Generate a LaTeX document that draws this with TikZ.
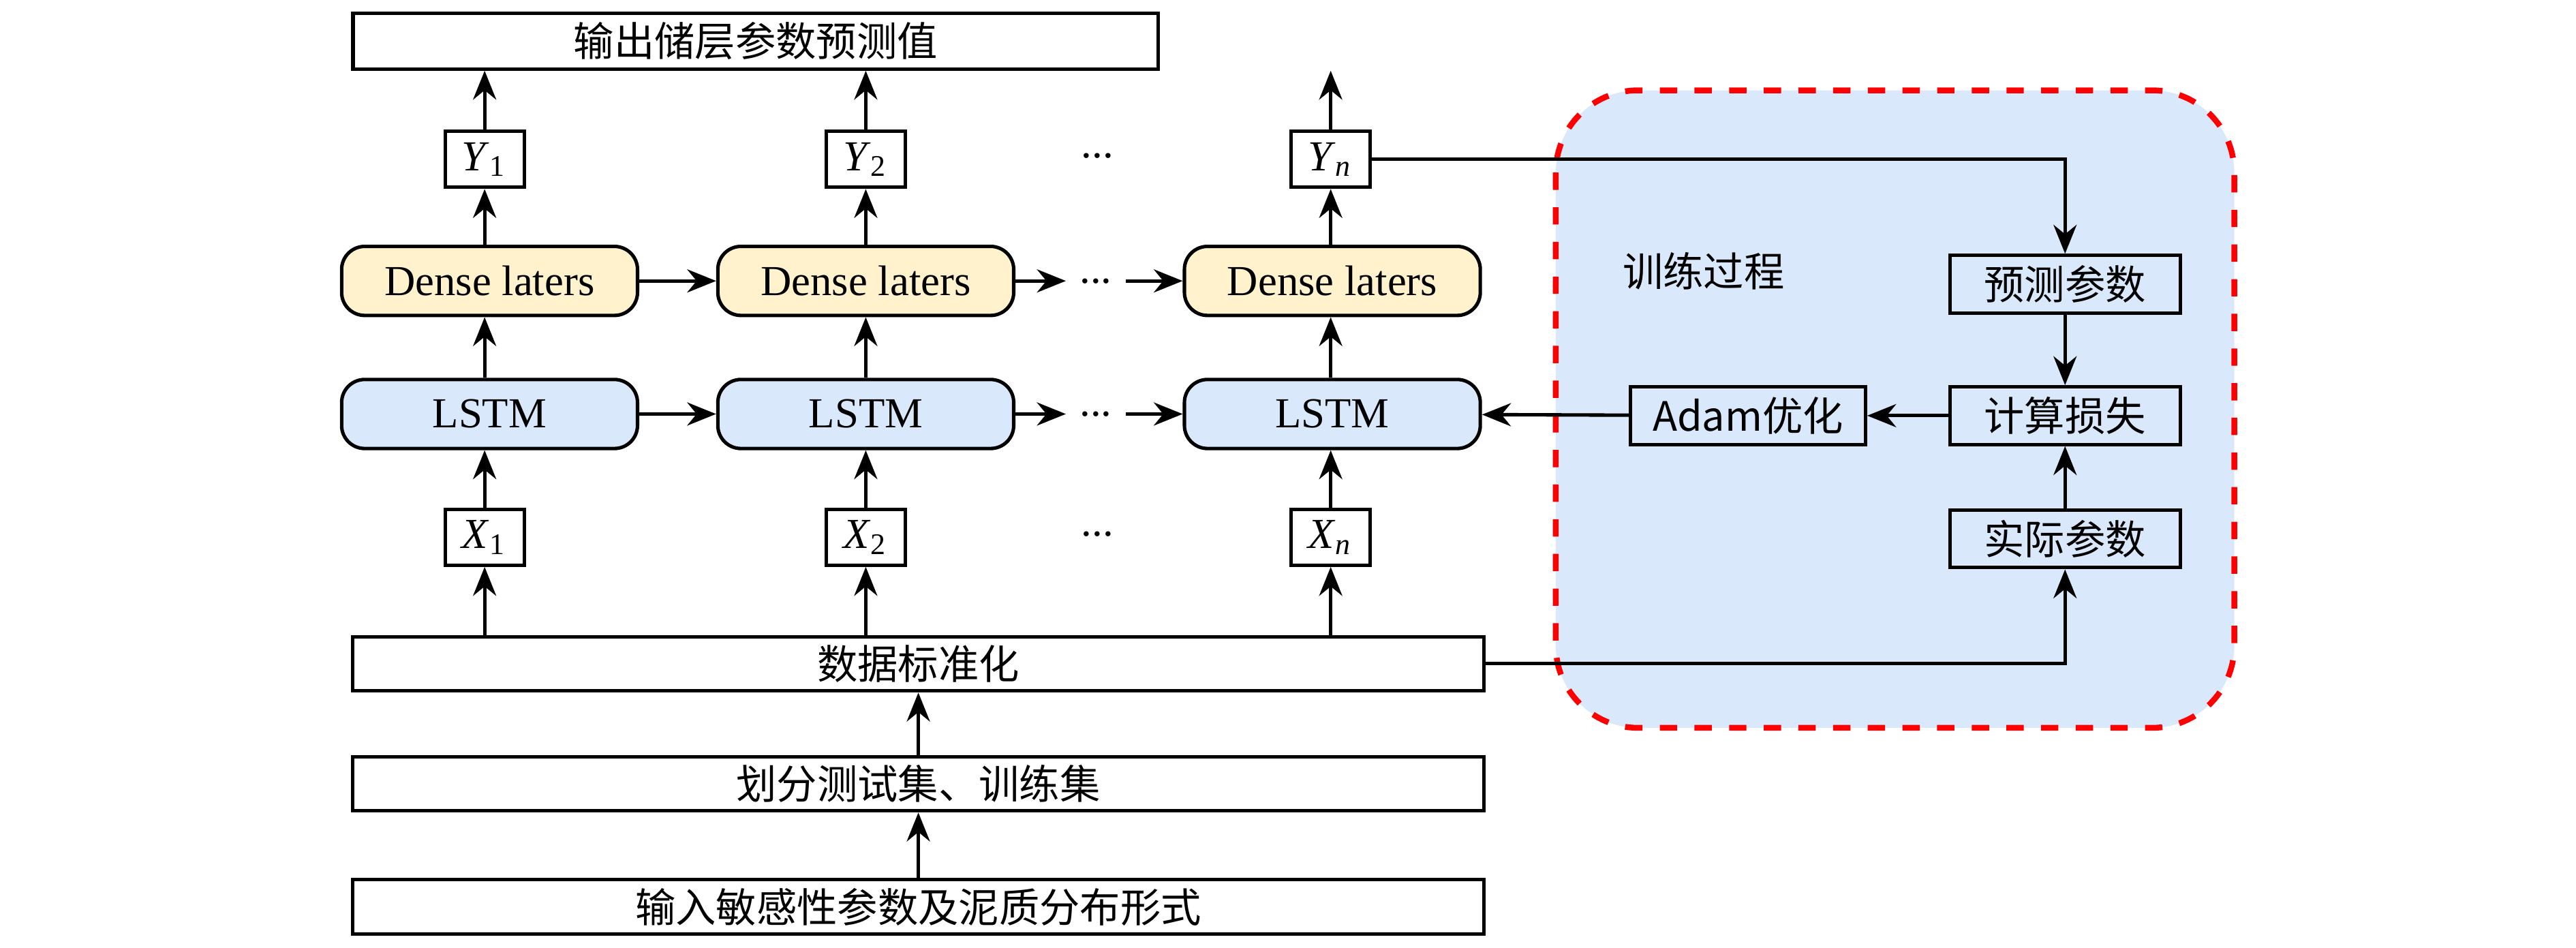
\documentclass[tikz,border=0pt]{standalone}
\usepackage{fontspec}
\setmainfont{Liberation Serif}
\newfontfamily\cjk{Noto Sans CJK SC}
\usetikzlibrary{arrows.meta,positioning}
\definecolor{lb}{HTML}{DAE8FC}
\definecolor{ly}{HTML}{FFF2CC}
\begin{document}
\begin{tikzpicture}[x=0.01cm,y=-0.01cm,
  every node/.style={font=\fontsize{7.4}{9}\selectfont},
  box/.style={draw,line width=0.6pt,inner sep=0pt,font=\cjk\fontsize{7}{9}\selectfont},
  wide/.style={box,minimum width=6.88cm,minimum height=0.33cm},
  sm/.style={draw,line width=0.6pt,inner sep=0pt,minimum width=0.48cm,minimum height=0.34cm},
  lstm/.style={draw,line width=0.6pt,rounded corners=4pt,fill=lb,minimum width=1.8cm,minimum height=0.42cm,inner sep=0pt},
  dense/.style={lstm,fill=ly},
  tb/.style={box,minimum width=1.4cm,minimum height=0.35cm},
  dots/.style={inner sep=2pt,minimum width=0.35cm},
  arr/.style={line width=0.6pt,-{Stealth[length=5pt,width=4pt]}}]
\useasboundingbox (0,0) rectangle (1568,577);
\draw[red,dashed,line width=1pt,rounded corners=0.5cm,fill=lb] (947,55) rectangle (1360,443);
\node[box,minimum width=4.9cm,minimum height=0.34cm] (out) at (460,25) {输出储层参数预测值};
\node[wide] (norm) at (559,404) {数据标准化};
\node[wide] (split) at (559,477) {划分测试集、训练集};
\node[wide] (in) at (559,552) {输入敏感性参数及泥质分布形式};
\node[sm] (y1) at (295,97) {\textit{Y}\textsubscript{1}};
\node[sm] (y2) at (527,97) {\textit{Y}\textsubscript{2}};
\node[sm] (yn) at (810,97) {\textit{Y}\textsubscript{\textit{n}}};
\node[sm] (x1) at (295,327) {\textit{X}\textsubscript{1}};
\node[sm] (x2) at (527,327) {\textit{X}\textsubscript{2}};
\node[sm] (xn) at (810,327) {\textit{X}\textsubscript{\textit{n}}};
\node[dense] (d1) at (298,171) {Dense laters};
\node[dense] (d2) at (527,171) {Dense laters};
\node[dense] (d3) at (811,171) {Dense laters};
\node[lstm] (l1) at (298,252) {LSTM};
\node[lstm] (l2) at (527,252) {LSTM};
\node[lstm] (l3) at (811,252) {LSTM};
\node[dots] (dy) at (668,95) {...};
\node[dots] (dd) at (667,171) {...};
\node[dots] (dl) at (667,252) {...};
\node[dots] (dx) at (668,325) {...};
\node[font=\cjk\fontsize{7}{9}\selectfont] (tr) at (1037,165) {训练过程};
\node[tb] (pred) at (1257,173) {预测参数};
\node[tb] (loss) at (1257,253) {计算损失};
\node[tb] (real) at (1257,328) {实际参数};
\node[box,minimum width=1.43cm,minimum height=0.35cm] (adam) at (1064,253) {Adam优化};
\draw[arr] (y1) -- (y1|-out.south); \draw[arr] (y2) -- (y2|-out.south); \draw[arr] (yn) -- (yn|-out.south);
\draw[arr] (y1|-d1.north) -- (y1); \draw[arr] (y2|-d2.north) -- (y2); \draw[arr] (yn|-d3.north) -- (yn);
\draw[arr] (y1|-l1.north) -- (y1|-d1.south); \draw[arr] (y2|-l2.north) -- (y2|-d2.south); \draw[arr] (yn|-l3.north) -- (yn|-d3.south);
\draw[arr] (x1) -- (x1|-l1.south); \draw[arr] (x2) -- (x2|-l2.south); \draw[arr] (xn) -- (xn|-l3.south);
\draw[arr] (x1|-norm.north) -- (x1); \draw[arr] (x2|-norm.north) -- (x2); \draw[arr] (xn|-norm.north) -- (xn);
\draw[arr] (d1) -- (d2); \draw[arr] (d2) -- (dd); \draw[arr] (dd) -- (d3);
\draw[arr] (l1) -- (l2); \draw[arr] (l2) -- (dl); \draw[arr] (dl) -- (l3);
\draw[arr] (in) -- (split); \draw[arr] (split) -- (norm);
\draw[arr] (yn.east) -| (pred.north);
\draw[arr] (pred) -- (loss);
\draw[arr] (real) -- (loss);
\draw[arr] (loss) -- (adam);
\draw[arr] (adam) -- (l3);
\draw[arr] (norm.east) -| (real.south);
\end{tikzpicture}
\end{document}
